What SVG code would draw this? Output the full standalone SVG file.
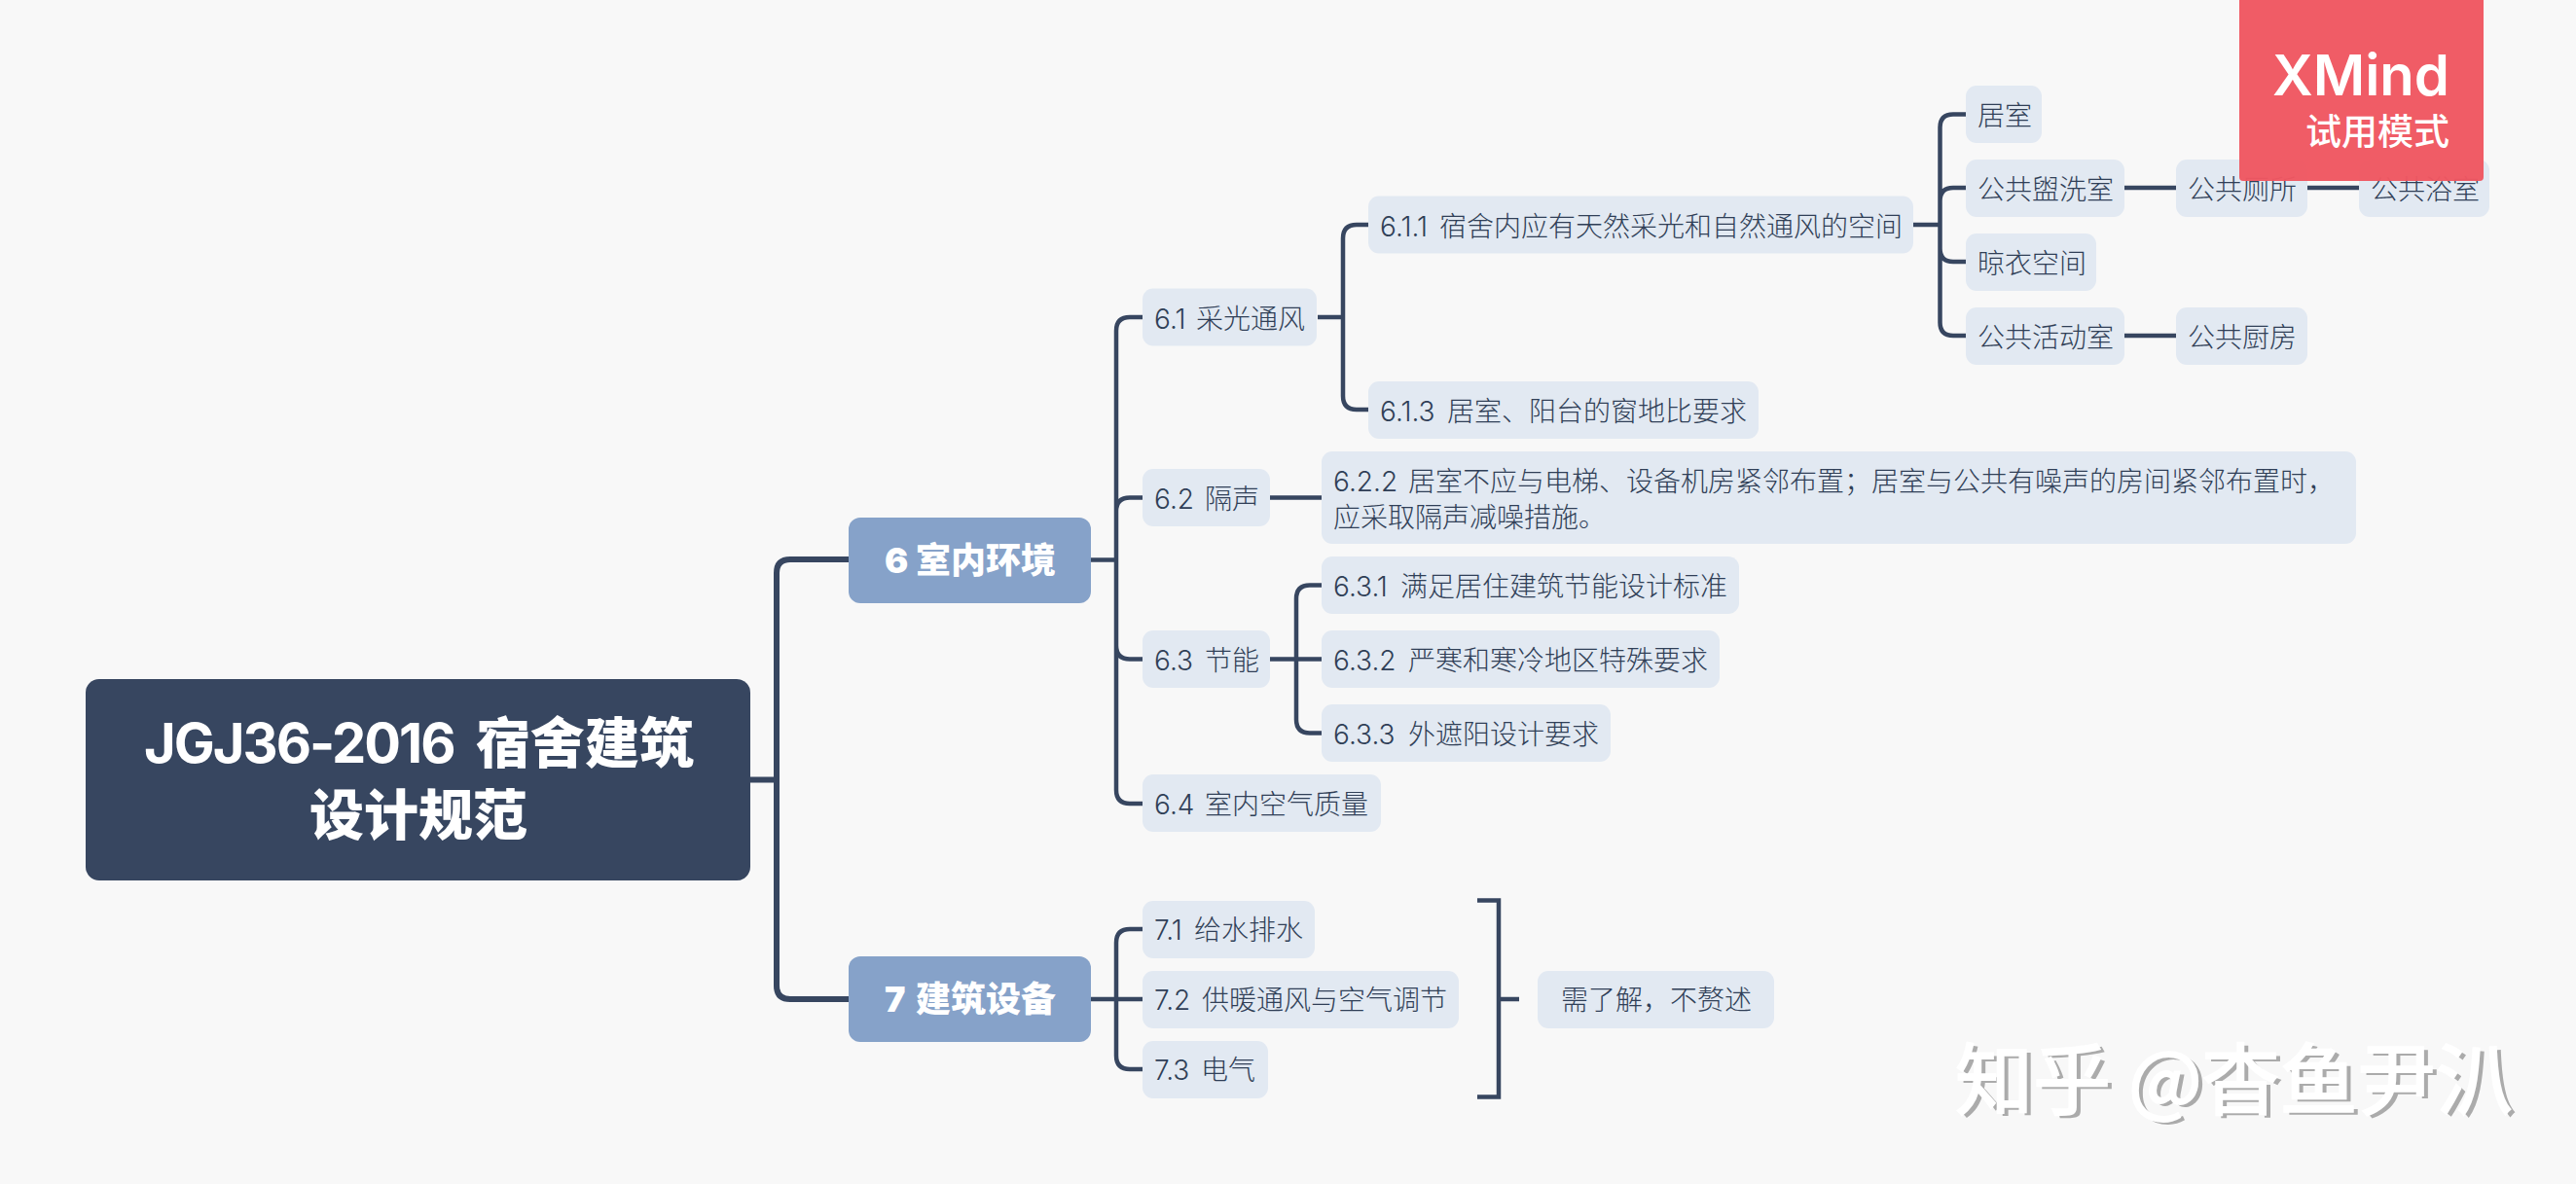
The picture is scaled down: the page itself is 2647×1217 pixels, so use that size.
<svg xmlns="http://www.w3.org/2000/svg" width="2647" height="1217" viewBox="0 0 2647 1217">
<style>
text{font-family:"Inter","Noto Sans CJK SC",sans-serif;fill:#303F57}
.n rect{fill:#E2E9F2}
.n text{font-size:28px;font-weight:300}
.m rect{fill:#86A2C9}
.m text{font-size:36px;font-weight:900;fill:#fff}
.w{fill:#fff}
.wm{font-size:80px;font-family:"Noto Sans CJK SC",sans-serif}
#connectors path{fill:none;stroke:#374660;stroke-width:4.5;stroke-linecap:butt}
#connectors path.t{stroke-width:6}
</style>
<rect width="2647" height="1217" fill="#F8F8F8"/>
<g id="connectors">
<path class="t" d="M771 801.500H798M872 575H812Q798 575 798 589V1013Q798 1027 812 1027H872"/>
<path d="M1121 575.500H1147M1174 326H1161Q1147 326 1147 340V812Q1147 826 1161 826H1174M1174 511.500H1161Q1147 511.500 1147 525.500M1147 663.500Q1147 677.500 1161 677.500H1174"/>
<path d="M1354 326H1380M1406 231H1394Q1380 231 1380 245V407Q1380 421 1394 421H1406"/>
<path d="M1966 231H1993.500M2020 117.500H2007Q1993.500 117.500 1993.500 131V331.500Q1993.500 345 2007 345H2020M2020 193H2007Q1993.500 193 1993.500 206.500M1993.500 255.500Q1993.500 269 2007 269H2020"/>
<path d="M2183 193H2236M2371 193H2424M2183 345H2236"/>
<path d="M1305 511.500H1358M1305 677.500H1358M1358 601.500H1346Q1332 601.500 1332 615.500V739.500Q1332 753.500 1346 753.500H1358"/>
<path d="M1121 1027H1174M1174 955H1161Q1147 955 1147 969V1085Q1147 1099 1161 1099H1174"/>
<path d="M1518 925.500H1540V1127.500H1518M1540 1027H1561"/>
</g>
<g id="central"><rect x="88" y="698" width="683" height="207" rx="14" fill="#374660"/><text class="w" x="148" y="784" font-size="56" font-weight="700"><tspan letter-spacing="-2">JGJ36-2016 </tspan><tspan x="489" font-weight="900">宿舍建筑</tspan></text><text class="w" x="430" y="858" text-anchor="middle" font-size="56" font-weight="900">设计规范</text></g>
<g id="t6" class="m"><rect x="872" y="532" width="249" height="88" rx="12"/><text x="909" y="589">6 <tspan x="941">室内环境</tspan></text></g>
<g id="t7" class="m"><rect x="872" y="983" width="249" height="88" rx="12"/><text x="909" y="1040">7 <tspan x="941">建筑设备</tspan></text></g>
<g id="t61" class="n"><rect x="1174" y="296.500" width="179" height="59" rx="11"/><text x="1186" y="338">6.1 <tspan x="1229">采光通风</tspan></text></g>
<g id="t611" class="n"><rect x="1406" y="201.500" width="560" height="59" rx="11"/><text x="1418" y="243">6.1.1 <tspan x="1479">宿舍内应有天然采光和自然通风的空间</tspan></text></g>
<g id="t613" class="n"><rect x="1406" y="392" width="401" height="59" rx="11"/><text x="1418" y="433">6.1.3 <tspan x="1487">居室、阳台的窗地比要求</tspan></text></g>
<g id="a1" class="n"><rect x="2020" y="88" width="78" height="59" rx="11"/><text x="2032" y="129">居室</text></g>
<g id="a2" class="n"><rect x="2020" y="164" width="163" height="59" rx="11"/><text x="2032" y="205">公共盥洗室</text></g>
<g id="a3" class="n"><rect x="2236" y="164" width="135" height="59" rx="11"/><text x="2248" y="205">公共厕所</text></g>
<g id="a4" class="n"><rect x="2424" y="164" width="134" height="59" rx="11"/><text x="2436" y="205">公共浴室</text></g>
<g id="a5" class="n"><rect x="2020" y="240" width="134" height="59" rx="11"/><text x="2032" y="281">晾衣空间</text></g>
<g id="a6" class="n"><rect x="2020" y="316" width="163" height="59" rx="11"/><text x="2032" y="357">公共活动室</text></g>
<g id="a7" class="n"><rect x="2236" y="316" width="135" height="59" rx="11"/><text x="2248" y="357">公共厨房</text></g>
<g id="t62" class="n"><rect x="1174" y="482" width="131" height="59" rx="11"/><text x="1186" y="523">6.2 <tspan x="1238">隔声</tspan></text></g>
<g id="t622" class="n"><rect x="1358" y="464" width="1063" height="95" rx="11"/><text x="1370" y="505">6.2.2 <tspan x="1447">居室不应与电梯、设备机房紧邻布置；居室与公共有噪声的房间紧邻布置时，</tspan></text><text x="1370" y="542">应采取隔声减噪措施。</text></g>
<g id="t63" class="n"><rect x="1174" y="648" width="131" height="59" rx="11"/><text x="1186" y="689">6.3 <tspan x="1238">节能</tspan></text></g>
<g id="t631" class="n"><rect x="1358" y="572" width="429" height="59" rx="11"/><text x="1370" y="613">6.3.1 <tspan x="1439">满足居住建筑节能设计标准</tspan></text></g>
<g id="t632" class="n"><rect x="1358" y="648" width="409" height="59" rx="11"/><text x="1370" y="689">6.3.2 <tspan x="1447">严寒和寒冷地区特殊要求</tspan></text></g>
<g id="t633" class="n"><rect x="1358" y="724" width="297" height="59" rx="11"/><text x="1370" y="765">6.3.3 <tspan x="1447">外遮阳设计要求</tspan></text></g>
<g id="t64" class="n"><rect x="1174" y="796" width="245" height="59" rx="11"/><text x="1186" y="837">6.4 <tspan x="1238">室内空气质量</tspan></text></g>
<g id="t71" class="n"><rect x="1174" y="926" width="177" height="59" rx="11"/><text x="1186" y="966">7.1 <tspan x="1227">给水排水</tspan></text></g>
<g id="t72" class="n"><rect x="1174" y="998" width="325" height="59" rx="11"/><text x="1186" y="1038">7.2 <tspan x="1235">供暖通风与空气调节</tspan></text></g>
<g id="t73" class="n"><rect x="1174" y="1070" width="129" height="59" rx="11"/><text x="1186" y="1110">7.3 <tspan x="1234">电气</tspan></text></g>
<g id="summary" class="n"><rect x="1580" y="998" width="243" height="59" rx="11"/><text x="1604" y="1038">需了解，不赘述</text></g>
<path d="M2301 0H2552V182Q2552 186 2548 186H2305Q2301 186 2301 182Z" fill="#EF5761" fill-opacity=".97"/>
<text class="w" x="2517" y="98" text-anchor="end" font-size="58" font-weight="600">XMind</text>
<text class="w" x="2517" y="149" text-anchor="end" font-size="37" font-weight="500">试用模式</text>
<text class="wm" x="2014" y="1142" style="fill:#ABABAB">知乎 @杳鱼尹汃</text>
<text class="wm w" x="2009" y="1139" stroke="#fff" stroke-width="2">知乎 @杳鱼尹汃</text>
</svg>
